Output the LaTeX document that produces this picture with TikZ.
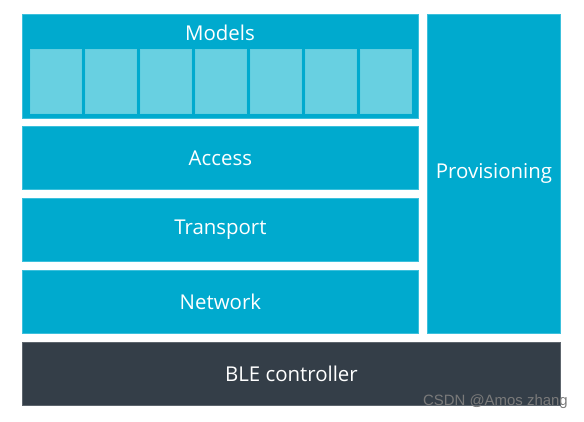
\documentclass[tikz,border=0pt]{standalone}
\usepackage{fontspec}
\setmainfont{Open Sans}
\newfontfamily\markfont{Liberation Sans}
\usetikzlibrary{positioning}
\definecolor{meshBlue}{HTML}{00AACE}
\definecolor{meshEdge}{HTML}{3CC0DC}
\definecolor{modelCyan}{HTML}{68D0E1}
\definecolor{ctrlDark}{HTML}{343E48}
\definecolor{markGray}{HTML}{7A7A7A}

\begin{document}
\begin{tikzpicture}[x=1bp, y=-1bp,
    layer/.style={rectangle, draw=meshEdge, fill=#1, line width=0.8bp,
                  anchor=north west, inner sep=0pt,
                  font=\fontsize{20.5}{24}\selectfont\color{white}},
    layer/.default=meshBlue,
    title/.style={font=\fontsize{20.5}{24}\selectfont\color{white}},
    model/.style={rectangle, draw=modelCyan!85!meshEdge, fill=modelCyan,
                  line width=0.8bp, anchor=north west, inner sep=0pt,
                  minimum width=51bp, minimum height=64bp},
  ]
    \useasboundingbox (0,0) rectangle (584,421);
    % stack on the left
    \node[layer, minimum width=396bp, minimum height=104bp] (models) at (22,14) {};
    \node[title] (modelsTitle) at (220,33) {Models};
    \foreach \i in {0,...,6}
      \node[model] (m\i) at (30+55*\i,49) {};
    \node[layer, minimum width=396bp, minimum height=63bp] (access) at (22,126) {Access};
    \node[layer, minimum width=396bp, minimum height=63bp] (transport) at (22,198) {Transport};
    \node[layer, minimum width=396bp, minimum height=63bp] (network) at (22,270) {Network};
    % right column
    \node[layer, minimum width=133bp, minimum height=319bp] (prov) at (427,14) {};
    \node[title] (provTitle) at (494,173) {Provisioning};
    % controller
    \node[layer=ctrlDark, draw=ctrlDark!80!white, minimum width=538bp,
          minimum height=63bp] (ctrl) at (22,342) {BLE controller};
    % watermark
    \node[font=\fontsize{15}{17}\selectfont\markfont\color{markGray},
          anchor=east, inner sep=0pt] (mark) at (568,402) {CSDN @Amos zhang};
\end{tikzpicture}
\end{document}
